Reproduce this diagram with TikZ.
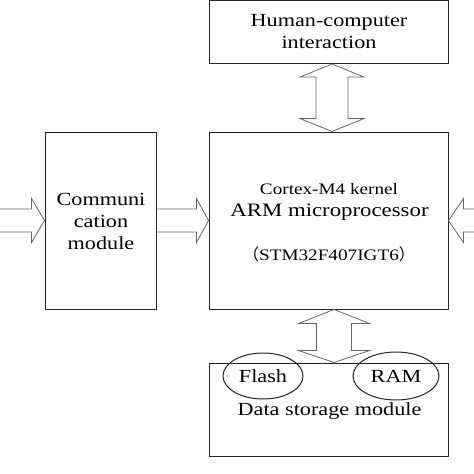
\documentclass[tikz,border=0pt]{standalone}
\usepackage{fontspec}
\setmainfont[FakeStretch=1.2]{Liberation Serif}
\newfontfamily\cjk{Noto Sans CJK SC}
\usetikzlibrary{shapes.geometric,calc}
\begin{document}
\begin{tikzpicture}[x=1pt,y={(0pt,-1pt)},
  box/.style={draw=black!85, line width=1pt, inner sep=0pt},
  blk/.style={draw=black!60, line width=0.8pt, line join=miter},
  txt/.style={anchor=base, inner sep=0pt, font=\fontsize{18.5}{22}\selectfont},
  stxt/.style={anchor=base, inner sep=0pt, font=\fontsize{16}{19}\selectfont},
  oval/.style={draw=black!85, line width=1pt, ellipse, inner sep=0pt, font=\fontsize{18.5}{22}\selectfont}]
\useasboundingbox[fill=white] (0,0) rectangle (474,474);
% boxes
\node[box, minimum width=239pt, minimum height=63pt] (hci) at (328.5,32) {};
\node[box, minimum width=239pt, minimum height=177pt] (arm) at (328.5,220.5) {};
\node[box, minimum width=111pt, minimum height=177pt] (comm) at (100.5,220.5) {};
\node[box, minimum width=239pt, minimum height=93pt] (store) at (328.5,409.5) {};
% texts
\node[txt] (h1) at (329,26.7) {Human-computer};
\node[txt] (h2) at (329,48.7) {interaction};
\node[txt] (c1) at (101,205.7) {Communi};
\node[txt] (c2) at (101,227.3) {cation};
\node[txt] (c3) at (101,249) {module};
\node[stxt] (a1) at (329,194) {Cortex-M4 kernel};
\node[txt, font=\fontsize{19}{22}\selectfont] (a2) at (329.5,216.7) {ARM microprocessor};
\node[stxt] (a3) at (329,260) {{\cjk （}STM32F407IGT6{\cjk ）}};
\node[txt] (s1) at (329.5,415) {Data storage module};
\node[oval, minimum width=80pt, minimum height=46pt] (flash) at (263,376) {Flash};
\node[oval, minimum width=86pt, minimum height=48pt] (ram) at (396,376) {RAM};
% helper coordinates
\path (332,0) coordinate (xu) (334,0) coordinate (xd);
\coordinate (ua) at (hci.south -| xu);
\coordinate (ub) at (arm.north -| xu);
\coordinate (da) at (arm.south -| xd);
\coordinate (db) at (store.north -| xd);
\coordinate (lin) at (-2,220.5);
\coordinate (rin) at (476,220.5);
% top double arrow
\draw[blk] (ua) -- ++(32,13) -- ++(-16,0) -- ($(ub)+(16,-13)$) -- ++(16,0) -- (ub)
  -- ++(-32,-13) -- ++(16,0) -- ($(ua)+(-16,13)$) -- ++(-16,0) -- cycle;
% bottom double arrow
\draw[blk] (da) -- ++(35.5,14) -- ++(-18,0) -- ($(db)+(17.5,-12)$) -- ++(18,0) -- (db)
  -- ++(-35.5,-12) -- ++(18,0) -- ($(da)+(-17.5,14)$) -- ++(-18,0) -- cycle;
% left input arrow
\draw[blk] ($(lin)+(0,-11.5)$) -- ($(comm.west)+(-13,-11.5)$) -- ++(0,-10.5) -- (comm.west)
  -- ($(comm.west)+(-13,22)$) -- ++(0,-10.5) -- ($(lin)+(0,11.5)$);
% comm -> arm
\draw[blk] ($(comm.east)+(0,-11.5)$) -- ($(arm.west)+(-12,-11.5)$) -- ++(0,-10.5) -- (arm.west)
  -- ($(arm.west)+(-12,22)$) -- ++(0,-10.5) -- ($(comm.east)+(0,11.5)$);
% right input arrow
\draw[blk] ($(rin)+(0,-11.5)$) -- ($(arm.east)+(15,-11.5)$) -- ++(0,-10.5) -- (arm.east)
  -- ($(arm.east)+(15,22)$) -- ++(0,-10.5) -- ($(rin)+(0,11.5)$);
\end{tikzpicture}
\end{document}
